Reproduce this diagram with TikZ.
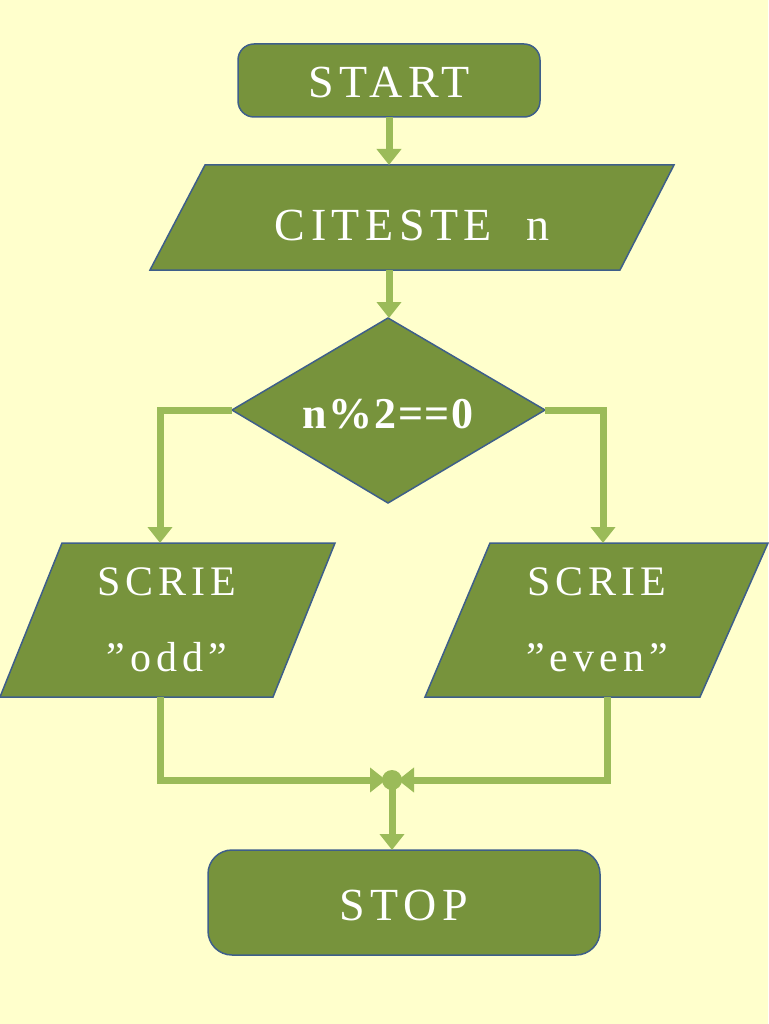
\documentclass[tikz,border=0pt]{standalone}
\usepackage{fontspec}
\setmainfont{Liberation Serif}
\usetikzlibrary{arrows.meta}
\definecolor{bg}{HTML}{FFFFCC}
\definecolor{boxg}{HTML}{77933C}
\definecolor{edge}{HTML}{3E5F8A}
\definecolor{lineg}{HTML}{9BBB59}
\begin{document}
\begin{tikzpicture}[x=1pt,y=-1pt,
  shp/.style={fill=boxg,draw=edge,line width=1.5pt},
  txt/.style={text=white,font=\fontsize{46}{52}\selectfont\addfontfeature{LetterSpace=12},align=center},
  conn/.style={draw=lineg,line width=7pt},
  arr/.style={conn,-{Triangle[width=24pt,length=16pt]}}]
\fill[bg] (0,0) rectangle (768,1024);
\useasboundingbox (0,0) rectangle (768,1024);
% shapes
\draw[shp,rounded corners=16pt] (238,44) rectangle (540,117);
\draw[shp] (205,165) -- (674,165) -- (620,270) -- (150,270) -- cycle;
\draw[shp] (388,318) -- (545,410) -- (388,503) -- (232,410) -- cycle;
\draw[shp] (62,543) -- (335,543) -- (273,697) -- (0,697) -- cycle;
\draw[shp] (490,543) -- (768,543) -- (700,697) -- (425,697) -- cycle;
\draw[shp,rounded corners=24pt] (208,850) rectangle (600,955);
% text nodes
\node[txt] (start) at (389,82) {START};
\node[txt] (cit) at (412,225) {CITESTE\ \ n};
\node[txt,font=\fontsize{44}{50}\selectfont\bfseries\addfontfeature{LetterSpace=4}] (dec) at (388,414) {n\%2==0};
\node[txt,font=\fontsize{42}{76}\selectfont\addfontfeature{LetterSpace=12}] (odd) at (167,620) {SCRIE\\”odd”};
\node[txt,font=\fontsize{42}{76}\selectfont\addfontfeature{LetterSpace=12}] (even) at (597,620) {SCRIE\\”even”};
\node[txt] (stop) at (404,905) {STOP};
% coordinates
\coordinate (sB) at (389,117); \coordinate (cT) at (389,165);
\coordinate (cB) at (389,270); \coordinate (dT) at (389,318);
\coordinate (dL) at (232,410); \coordinate (dR) at (545,410);
\coordinate (oT) at (160,543); \coordinate (eT) at (603,543);
\coordinate (oB) at (160,697); \coordinate (eB) at (607,697);
\coordinate (j) at (392,780); \coordinate (stT) at (392,850);
% connectors
\draw[arr] (sB) -- (cT);
\draw[arr] (cB) -- (dT);
\draw[arr] (dL) -| (oT);
\draw[arr] (dR) -| (eT);
\draw[conn,-{Triangle[width=24pt,length=16pt]}] (oB) |- ([xshift=-6pt]j);
\draw[conn,-{Triangle[width=24pt,length=16pt]}] (eB) |- ([xshift=6pt]j);
\fill[lineg] (j) circle (10pt);
\draw[arr] ([yshift=8pt]j) -- (stT);
\end{tikzpicture}
\end{document}
